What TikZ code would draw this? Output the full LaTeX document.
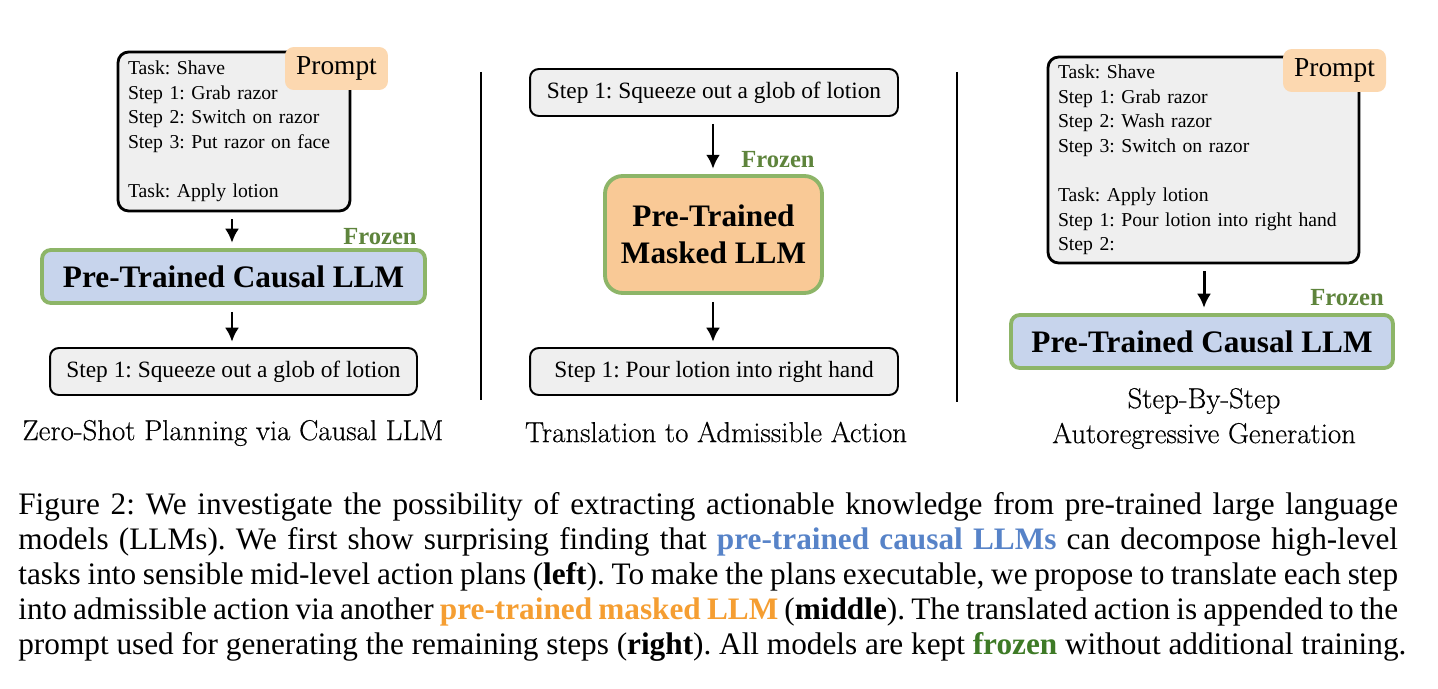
\documentclass[tikz,border=0pt]{standalone}
\usepackage{fontspec}
\setmainfont{Liberation Serif}
\newfontfamily\subfont[FakeBold=0.4]{Latin Modern Roman}
\usepackage{xcolor}
\usetikzlibrary{arrows.meta, positioning}
\definecolor{boxgray}{RGB}{239,239,239}
\definecolor{llmblue}{RGB}{199,212,236}
\definecolor{frzline}{RGB}{141,181,104}
\definecolor{frztext}{RGB}{94,132,60}
\definecolor{maskorange}{RGB}{249,201,150}
\definecolor{tagorange}{RGB}{252,216,176}
\definecolor{capblue}{RGB}{87,131,200}
\definecolor{caporange}{RGB}{245,158,50}
\definecolor{capgreen}{RGB}{62,122,38}
\frenchspacing
\tikzset{
  promptbox/.style = {rectangle, rounded corners=6pt, draw=black, line width=1.6pt,
                      fill=boxgray, align=left, inner xsep=0.2cm, inner ysep=0pt,
                      font=\fontsize{11.2}{14}\selectfont},
  tag/.style       = {rectangle, rounded corners=5pt, fill=tagorange,
                      minimum width=2.06cm, minimum height=0.86cm,
                      font=\fontsize{15.6}{18}\selectfont},
  llm/.style       = {rectangle, rounded corners=5pt, draw=frzline, line width=2.2pt,
                      fill=llmblue, minimum height=1.06cm, align=center,
                      font=\fontsize{17.8}{21}\selectfont\bfseries},
  stepbox/.style   = {rectangle, rounded corners=5pt, draw=black, line width=1.1pt,
                      fill=boxgray, minimum width=7.36cm, minimum height=0.94cm,
                      font=\fontsize{13.3}{16}\selectfont},
  frozen/.style    = {text=frztext, font=\fontsize{14}{16}\selectfont\bfseries},
  subcap/.style    = {align=center, font=\subfont\fontsize{16.4}{19.9}\selectfont},
  arrow/.style     = {-{Latex[length=8pt,width=8pt]}, line width=1.7pt,
                      shorten <=4pt, shorten >=3pt},
  sep/.style       = {line width=1.6pt},
  capline/.style   = {anchor=base west, inner sep=0pt, font=\fontsize{17.8}{20}\selectfont},
}
\begin{document}
\begin{tikzpicture}[x=0.02cm, y=-0.02cm]
  \useasboundingbox (0,0) rectangle (1438,689);

  % left: zero-shot planning
  \node[promptbox, minimum height=3.18cm, text width=4.24cm] (lprompt) at (234,131.5)
    {Task: Shave\\ Step 1: Grab razor\\ Step 2: Switch on razor\\
     Step 3: Put razor on face\\ ~\\ Task: Apply lotion};
  \node[tag]                       (ltag)    at (336.5,68.5)  {Prompt};
  \node[llm, minimum width=7.66cm] (lllm)    at (233.5,276.5) {Pre-Trained Causal LLM};
  \node[frozen]                    (lfrozen) at (380,237)     {Frozen};
  \node[stepbox, minimum width=7.34cm] (lout) at (233.5,371.5)
    {Step 1: Squeeze out a glob of lotion};
  \node[subcap]                    (lsub)    at (233,433)
    {Zero-Shot Planning via Causal LLM};
  \draw[arrow] (lprompt.south -| 232,0) -- (lllm.north -| 232,0);
  \draw[arrow] (lllm.south -| 232,0) -- (lout.north -| 232,0);

  \draw[sep] (481,72) -- (481,400);

  % middle: translation
  \node[stepbox] (mtop) at (714,92.5) {Step 1: Squeeze out a glob of lotion};
  \node[llm, fill=maskorange, rounded corners=10pt, minimum width=4.34cm,
        minimum height=2.34cm] (mllm) at (713.5,234.5)
    {Pre-Trained\\ Masked LLM};
  \node[frozen]  (mfrozen) at (778,160) {Frozen};
  \node[stepbox] (mout)    at (714,371.5) {Step 1: Pour lotion into right hand};
  \node[subcap]  (msub)    at (716,432) {Translation to Admissible Action};
  \draw[arrow] (mtop.south -| 713,0) -- (mllm.north -| 713,0);
  \draw[arrow] (mllm.south -| 713,0) -- (mout.north -| 713,0);

  \draw[sep] (957,72) -- (957,402);

  % right: step-by-step generation
  \node[promptbox, minimum height=4.12cm, text width=5.82cm] (rprompt) at (1203.5,160)
    {Task: Shave\\ Step 1: Grab razor\\ Step 2: Wash razor\\
     Step 3: Switch on razor\\ ~\\ Task: Apply lotion\\
     Step 1: Pour lotion into right hand\\ Step 2:};
  \node[tag]                       (rtag)    at (1334.5,70.5) {Prompt};
  \node[llm, minimum width=7.64cm] (rllm)    at (1202,341.5)  {Pre-Trained Causal LLM};
  \node[frozen]                    (rfrozen) at (1347,298)    {Frozen};
  \node[subcap]                    (rsub)    at (1204,418.5)
    {Step-By-Step\\ Autoregressive Generation};
  \draw[arrow] (rprompt.south -| 1204,0) -- (rllm.north -| 1204,0);

  % caption
  \node[capline] (cap1) at (18,514) {\makebox[27.6cm][s]{Figure 2: We investigate
    the possibility of extracting actionable knowledge from pre-trained large language}};
  \node[capline] (cap2) at (18,549) {\makebox[27.6cm][s]{models (LLMs). We first show
    surprising finding that \textcolor{capblue}{\textbf{pre-trained causal LLMs}} can
    decompose high-level}};
  \node[capline] (cap3) at (18,584) {\makebox[27.6cm][s]{tasks into sensible mid-level
    action plans (\textbf{left}). To make the plans executable, we propose to translate
    each step}};
  \node[capline] (cap4) at (18,619) {\makebox[27.6cm][s]{into admissible action via
    another \textcolor{caporange}{\textbf{pre-trained masked LLM}} (\textbf{middle}).
    The translated action is appended to the}};
  \node[capline] (cap5) at (18,654) {prompt used for generating the remaining steps
    (\textbf{right}). All models are kept \textcolor{capgreen}{\textbf{frozen}} without
    additional training.};
\end{tikzpicture}
\end{document}
